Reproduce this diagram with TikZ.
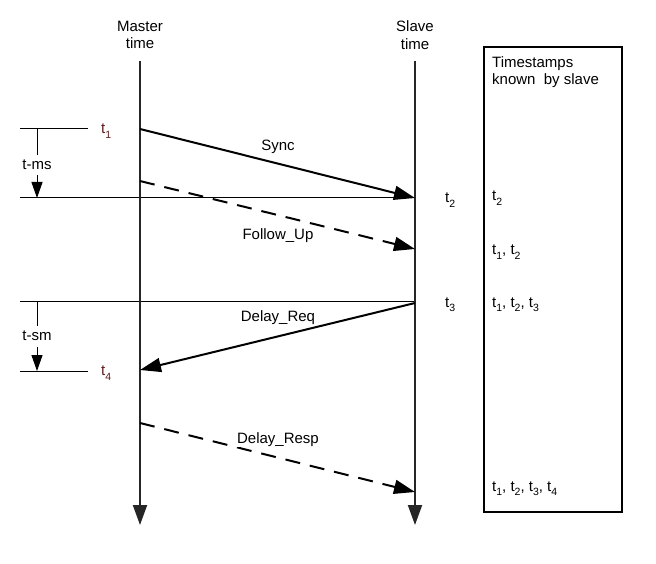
\documentclass[tikz,border=0pt]{standalone}
\usepackage{fontspec}
\setmainfont{Liberation Sans}
\usetikzlibrary{arrows.meta}
\definecolor{tlab}{RGB}{95,25,25}
\newcommand{\sbs}[1]{\raisebox{-0.55ex}{\fontsize{10.5}{10.5}\selectfont #1}}
\tikzset{
  lbl/.style={inner sep=0pt, font=\fontsize{15}{17.5}\selectfont},
  timeline/.style={line width=2pt, draw=black!85, -{Triangle[length=20pt,width=14pt]}},
  msg/.style={line width=2pt, -{Triangle[length=21pt,width=14pt]}},
  dmsg/.style={msg, dash pattern=on 15pt off 10pt},
  thin line/.style={line width=1pt},
  interval/.style={line width=1pt, -{Triangle[length=16pt,width=11pt]}},
}
\begin{document}
\begin{tikzpicture}[x=1pt,y=-1pt]
\useasboundingbox (0,0) rectangle (656,564);
% headers
\node[lbl, align=center] (mh) at (140,35) {Master\\time};
\node[lbl, align=center] (sh) at (415,35) {Slave\\time};
% timeline coordinates
\coordinate (mtop) at (140,61);
\coordinate (mbot) at (140,525);
\coordinate (stop) at (415,61);
\coordinate (sbot) at (415,525);
% reference lines
\coordinate (l1a) at (20,129);  \coordinate (l1b) at (88,129);
\coordinate (l2a) at (20,198);  \coordinate (l2b) at (415,198);
\coordinate (l3a) at (20,301);  \coordinate (l3b) at (415,301);
\coordinate (l4a) at (20,371);  \coordinate (l4b) at (88,371);
\draw[thin line] (l1a) -- (l1b);
\draw[thin line] (l2a) -- (l2b);
\draw[thin line] (l3a) -- (l3b);
\draw[thin line] (l4a) -- (l4b);
% intervals
\coordinate (ms1) at (37,129); \coordinate (ms2) at (37,155);
\coordinate (ms3) at (37,175); \coordinate (ms4) at (37,198);
\node[lbl] (tms) at (37,165) {t-ms};
\draw[thin line] (ms1) -- (ms2);
\draw[interval] (ms3) -- (ms4);
\coordinate (sm1) at (37,301); \coordinate (sm2) at (37,326);
\coordinate (sm3) at (37,347); \coordinate (sm4) at (37,371);
\node[lbl] (tsm) at (37,336) {t-sm};
\draw[thin line] (sm1) -- (sm2);
\draw[interval] (sm3) -- (sm4);
% timelines
\draw[timeline] (mtop) -- (mbot);
\draw[timeline] (stop) -- (sbot);
% messages
\coordinate (sy1) at (140,129); \coordinate (sy2) at (415,198);
\coordinate (fu1) at (140,181); \coordinate (fu2) at (415,249);
\coordinate (dq1) at (415,303); \coordinate (dq2) at (140,370);
\coordinate (dr1) at (140,423); \coordinate (dr2) at (415,492);
\draw[msg] (sy1) -- (sy2);
\draw[dmsg] (fu1) -- (fu2);
\draw[msg] (dq1) -- (dq2);
\draw[dmsg] (dr1) -- (dr2);
\node[lbl] (lsync) at (278,147) {Sync};
\node[lbl] (lfu) at (278,236) {Follow\_Up};
\node[lbl, fill=white, inner xsep=1pt] (ldq) at (278,318) {Delay\_Req};
\node[lbl, fill=white, inner xsep=1pt] (ldr) at (278,440) {Delay\_Resp};
% time labels
\node[lbl, anchor=west, text=tlab] (t1) at (101,131) {t\sbs{1}};
\node[lbl, anchor=west, text=tlab] (t4) at (101,373) {t\sbs{4}};
\node[lbl, anchor=west] (t2) at (445,200) {t\sbs{2}};
\node[lbl, anchor=west] (t3) at (445,305) {t\sbs{3}};
% box
\draw[line width=1.5pt] (484,47) rectangle (622,512);
\node[lbl, anchor=north west, align=left] (hdr) at (492,56) {Timestamps\\known\ \ by slave};
\node[lbl, anchor=west] (k1) at (492,198) {t\sbs{2}};
\node[lbl, anchor=west] (k2) at (492,252) {t\sbs{1}, t\sbs{2}};
\node[lbl, anchor=west] (k3) at (492,305) {t\sbs{1}, t\sbs{2}, t\sbs{3}};
\node[lbl, anchor=west] (k4) at (492,489) {t\sbs{1}, t\sbs{2}, t\sbs{3}, t\sbs{4}};
\end{tikzpicture}
\end{document}
